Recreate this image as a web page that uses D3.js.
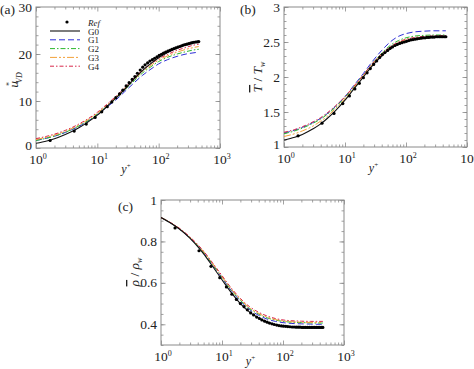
<!DOCTYPE html>
<html><head><meta charset="utf-8">
<script src="https://cdn.jsdelivr.net/npm/d3@7"></script>
<style>
body{margin:0;background:#fff}
svg{display:block}
svg text{font-family:'Liberation Serif', serif;fill:#222}
</style>
</head><body><svg id="c" width="474" height="369" font-family="Liberation Serif"></svg>
<script>
// ---------------- DATA ----------------
const yPlusGrid = [1, 1.5, 2, 3, 4, 5, 7, 10, 14, 20, 28, 40, 55, 75, 100, 140, 200, 280, 350, 450];
const seriesNames = ["G0", "G1", "G2", "G3", "G4"];

// panel (a) u_VD^+
const uG0 = [1.0, 1.5, 1.95, 2.85, 3.6, 4.3, 5.5, 7.0, 8.7, 10.6, 12.5, 14.7, 16.5, 18.0, 19.2, 20.3, 21.3, 22.0, 22.4, 22.7];
const uG1 = [1.6, 2.1, 2.5, 3.3, 4.0, 4.6, 5.7, 7.1, 8.6, 10.2, 12.0, 13.9, 15.5, 16.8, 17.9, 18.8, 19.5, 20.0, 20.2, 20.4];
const uG2 = [1.6, 2.1, 2.55, 3.35, 4.05, 4.7, 5.8, 7.2, 8.8, 10.5, 12.4, 14.3, 16.0, 17.3, 18.4, 19.3, 20.0, 20.5, 20.8, 21.0];
const uG3 = [1.8, 2.3, 2.75, 3.55, 4.25, 4.9, 6.0, 7.4, 9.0, 10.8, 12.7, 14.6, 16.3, 17.6, 18.7, 19.6, 20.4, 21.0, 21.3, 21.6];
const uG4 = [2.0, 2.5, 2.95, 3.75, 4.45, 5.1, 6.2, 7.6, 9.2, 11.0, 12.9, 14.9, 16.6, 17.9, 19.0, 19.9, 20.8, 21.4, 21.8, 22.1];

// panel (b) T/Tw
const tG0 = [1.10, 1.14, 1.18, 1.26, 1.33, 1.40, 1.52, 1.67, 1.83, 2.0, 2.16, 2.30, 2.40, 2.47, 2.51, 2.54, 2.56, 2.57, 2.575, 2.575];
const tG1 = [1.20, 1.24, 1.28, 1.35, 1.41, 1.47, 1.58, 1.72, 1.88, 2.05, 2.22, 2.38, 2.50, 2.58, 2.62, 2.645, 2.655, 2.66, 2.66, 2.66];
const tG2 = [1.19, 1.23, 1.27, 1.34, 1.40, 1.46, 1.57, 1.71, 1.86, 2.03, 2.19, 2.34, 2.45, 2.52, 2.56, 2.585, 2.595, 2.60, 2.60, 2.60];
const tG3 = [1.15, 1.19, 1.23, 1.30, 1.37, 1.43, 1.55, 1.69, 1.85, 2.02, 2.18, 2.32, 2.42, 2.49, 2.53, 2.555, 2.57, 2.58, 2.58, 2.58];
const tG4 = [1.21, 1.25, 1.29, 1.36, 1.42, 1.48, 1.59, 1.72, 1.87, 2.03, 2.19, 2.33, 2.43, 2.50, 2.54, 2.565, 2.58, 2.585, 2.59, 2.59];

// panel (c) rho/rho_w
const rG0 = [0.915, 0.885, 0.86, 0.815, 0.775, 0.74, 0.68, 0.615, 0.555, 0.50, 0.46, 0.43, 0.41, 0.398, 0.392, 0.389, 0.387, 0.386, 0.386, 0.386];
const rG1 = [0.915, 0.885, 0.86, 0.815, 0.778, 0.745, 0.688, 0.625, 0.565, 0.512, 0.472, 0.443, 0.425, 0.414, 0.408, 0.404, 0.402, 0.401, 0.40, 0.40];
const rG2 = [0.915, 0.886, 0.861, 0.817, 0.78, 0.747, 0.69, 0.628, 0.568, 0.516, 0.477, 0.449, 0.431, 0.42, 0.414, 0.41, 0.408, 0.407, 0.406, 0.406];
const rG3 = [0.915, 0.887, 0.862, 0.818, 0.782, 0.75, 0.693, 0.63, 0.572, 0.52, 0.48, 0.452, 0.434, 0.423, 0.416, 0.412, 0.41, 0.409, 0.409, 0.409];
const rG4 = [0.915, 0.888, 0.864, 0.821, 0.785, 0.753, 0.697, 0.635, 0.577, 0.525, 0.486, 0.458, 0.44, 0.428, 0.421, 0.417, 0.415, 0.414, 0.414, 0.414];

// reference (DNS) points
const refYPlus = [1.7, 4.2, 6.6, 9.2, 11.8, 14.5, 17.2, 20, 23, 26, 29.5, 33, 37, 41, 45, 50, 55, 60, 66, 72, 79, 86, 94, 102, 111, 120, 130, 141, 152, 164, 177, 190, 205, 220, 236, 253, 271, 290, 310, 331, 353, 376, 400, 425, 450];
const refU = [1.6, 3.6, 5.1, 6.5, 7.7, 8.8, 9.8, 10.7, 11.5, 12.3, 13.2, 13.9, 14.6, 15.2, 15.9, 16.6, 17.2, 17.7, 18.1, 18.5, 18.8, 19.1, 19.4, 19.7, 19.95, 20.2, 20.4, 20.6, 20.8, 21.0, 21.15, 21.3, 21.45, 21.6, 21.75, 21.9, 22.0, 22.1, 22.2, 22.3, 22.4, 22.5, 22.55, 22.6, 22.65];
const refT = [1.16, 1.34, 1.48, 1.62, 1.73, 1.83, 1.91, 1.99, 2.06, 2.12, 2.18, 2.23, 2.28, 2.32, 2.35, 2.38, 2.41, 2.43, 2.45, 2.465, 2.48, 2.49, 2.50, 2.51, 2.52, 2.53, 2.535, 2.54, 2.545, 2.55, 2.555, 2.56, 2.56, 2.565, 2.565, 2.57, 2.57, 2.57, 2.575, 2.575, 2.575, 2.575, 2.575, 2.575, 2.575];
const refRho = [0.865, 0.755, 0.68, 0.625, 0.58, 0.545, 0.52, 0.50, 0.485, 0.47, 0.455, 0.445, 0.435, 0.428, 0.421, 0.415, 0.41, 0.406, 0.402, 0.399, 0.396, 0.394, 0.392, 0.391, 0.39, 0.389, 0.388, 0.387, 0.387, 0.386, 0.386, 0.386, 0.385, 0.385, 0.385, 0.385, 0.385, 0.385, 0.385, 0.385, 0.385, 0.385, 0.385, 0.385, 0.385];

const xDecades = [1, 10, 100, 1000];
const xDecadeExp = ["0", "1", "2", "3"];
const uTicks = [0, 10, 20, 30];
const tTicks = [1, 1.5, 2, 2.5, 3];
const rTicks = [0.4, 0.6, 0.8, 1];

// ---------------- STYLES ----------------
const colors = ["#111111", "#2e2ed6", "#2db82d", "#f2a23a", "#d8284a"];
const dashes = [null, "6,3", "5,2,1.5,2", "7,2,2,2,2,2", "4,2,1.5,2"];
const widths = [1.1, 1.0, 1.0, 1.0, 1.0];

const svg = d3.select("#c");

function panel(cfg) {
  const g = svg.append("g");
  const x = d3.scaleLog().domain([1, 1000]).range([cfg.l, cfg.r]);
  const y = d3.scaleLinear().domain(cfg.yDom).range([cfg.b, cfg.t]);
  const frame = "#8a8a8a";

  const minorX = [];
  for (let d = 1; d < 1000; d *= 10) for (let k = 2; k <= 9; k++) minorX.push(d * k);
  const axB = g.append("g").attr("transform", `translate(0,${cfg.b})`)
    .call(d3.axisBottom(x).tickValues(minorX).tickSize(-2.5).tickFormat(""));
  const axT = g.append("g").attr("transform", `translate(0,${cfg.t})`)
    .call(d3.axisTop(x).tickValues(minorX).tickSize(-2.5).tickFormat(""));
  const axB2 = g.append("g").attr("transform", `translate(0,${cfg.b})`)
    .call(d3.axisBottom(x).tickValues(xDecades).tickSize(-4.5).tickFormat(""));
  const axT2 = g.append("g").attr("transform", `translate(0,${cfg.t})`)
    .call(d3.axisTop(x).tickValues(xDecades).tickSize(-4.5).tickFormat(""));
  const minorY = d3.range(cfg.yDom[0], cfg.yDom[1] + 1e-9, cfg.yMinor);
  const axL = g.append("g").attr("transform", `translate(${cfg.l},0)`)
    .call(d3.axisLeft(y).tickValues(minorY).tickSize(-2.5).tickFormat(""));
  const axR = g.append("g").attr("transform", `translate(${cfg.r},0)`)
    .call(d3.axisRight(y).tickValues(minorY).tickSize(-2.5).tickFormat(""));
  const axL2 = g.append("g").attr("transform", `translate(${cfg.l},0)`)
    .call(d3.axisLeft(y).tickValues(cfg.yTicks).tickSize(-4.5).tickFormat(""));
  const axR2 = g.append("g").attr("transform", `translate(${cfg.r},0)`)
    .call(d3.axisRight(y).tickValues(cfg.yTicks).tickSize(-4.5).tickFormat(""));
  [axB, axT, axB2, axT2, axL, axR, axL2, axR2].forEach(a => {
    a.select(".domain").remove();
    a.selectAll("line").attr("stroke", frame).attr("stroke-width", 0.8);
  });
  g.append("rect").attr("x", cfg.l).attr("y", cfg.t)
    .attr("width", cfg.r - cfg.l).attr("height", cfg.b - cfg.t)
    .attr("fill", "none").attr("stroke", frame).attr("stroke-width", 1);

  xDecades.forEach((v, i) => {
    const t = g.append("text").attr("x", x(v) + 2).attr("y", cfg.b + 16)
      .attr("text-anchor", "middle").attr("font-size", 13.5);
    t.append("tspan").text("10");
    t.append("tspan").attr("font-size", 8).attr("dy", -5).text(xDecadeExp[i]);
  });
  cfg.yTicks.forEach(v => {
    g.append("text").attr("x", cfg.l - 4).attr("y", y(v) + (v === cfg.yDom[0] ? 1.5 : 4.5))
      .attr("text-anchor", "end").attr("font-size", 13.5).text(cfg.fmt(v));
  });
  const xl = g.append("text").attr("x", (cfg.l + cfg.r) / 2 - 2).attr("y", cfg.b + cfg.xlOff)
    .attr("text-anchor", "middle").attr("font-size", 12);
  xl.append("tspan").attr("font-style", "italic").text("y");
  xl.append("tspan").attr("font-size", 7).attr("dy", -5).text("+");

  const clipId = "clip" + cfg.id;
  g.append("clipPath").attr("id", clipId).append("rect")
    .attr("x", cfg.l).attr("y", cfg.t).attr("width", cfg.r - cfg.l).attr("height", cfg.b - cfg.t);
  const line = d3.line().x((d, i) => x(yPlusGrid[i])).y(d => y(d)).curve(d3.curveMonotoneX);
  const plot = g.append("g").attr("clip-path", `url(#${clipId})`);
  [1, 2, 3, 4, 0].forEach(k => {
    plot.append("path").attr("d", line(cfg.series[k])).attr("fill", "none")
      .attr("stroke", colors[k]).attr("stroke-width", widths[k])
      .attr("stroke-dasharray", dashes[k]);
  });
  plot.selectAll("circle.ref").data(cfg.ref).enter().append("circle")
    .attr("cx", (d, i) => x(refYPlus[i])).attr("cy", d => y(d)).attr("r", 1.6).attr("fill", "#000");

  g.append("text").attr("x", cfg.letterX).attr("y", cfg.letterY).attr("font-size", 13.5).text(cfg.letter);
  return {g, x, y};
}

panel({id: "a", l: 36, r: 220, t: 7, b: 148, yDom: [0, 30], yTicks: uTicks, yMinor: 2, xlOff: 25,
  fmt: d => d, series: [uG0, uG1, uG2, uG3, uG4], ref: refU, letter: "(a)", letterX: 0, letterY: 14});
panel({id: "b", l: 284, r: 467, t: 7, b: 147, yDom: [1, 3], yTicks: tTicks, yMinor: 0.1, xlOff: 25,
  fmt: d => d, series: [tG0, tG1, tG2, tG3, tG4], ref: refT, letter: "(b)", letterX: 240, letterY: 14});
panel({id: "c", l: 161, r: 344, t: 200, b: 345, yDom: [0.3, 1], yTicks: rTicks, yMinor: 0.05, xlOff: 20,
  fmt: d => d, series: [rG0, rG1, rG2, rG3, rG4], ref: refRho, letter: "(c)", letterX: 118, letterY: 211});

{
  const t = svg.append("text").attr("transform", "translate(18,80) rotate(-90)")
    .attr("text-anchor", "middle").attr("font-size", 13.5);
  t.append("tspan").attr("font-style", "italic").text("u");
  t.append("tspan").attr("font-size", 8).attr("dy", -6).attr("dx", -5).text("*");
  t.append("tspan").attr("font-size", 8).attr("dy", 10).attr("dx", -1).attr("font-style", "italic").text("VD");
}
{
  const t = svg.append("text").attr("transform", "translate(262,77) rotate(-90)")
    .attr("text-anchor", "middle").attr("font-size", 13.5);
  t.append("tspan").attr("font-style", "italic").attr("text-decoration", "overline").text("T");
  t.append("tspan").text(" / ");
  t.append("tspan").attr("font-style", "italic").text("T");
  t.append("tspan").attr("font-size", 8).attr("dy", 3).attr("font-style", "italic").text("w");
}
{
  const t = svg.append("text").attr("transform", "translate(139,272) rotate(-90)")
    .attr("text-anchor", "middle").attr("font-size", 13.5);
  t.append("tspan").attr("font-style", "italic").attr("text-decoration", "overline").text("ρ");
  t.append("tspan").text(" / ");
  t.append("tspan").attr("font-style", "italic").text("ρ");
  t.append("tspan").attr("font-size", 8).attr("dy", 3).attr("font-style", "italic").text("w");
}

{
  const lg = svg.append("g");
  lg.append("circle").attr("cx", 67).attr("cy", 22).attr("r", 1.6).attr("fill", "#000");
  lg.append("text").attr("x", 88).attr("y", 25.5).attr("font-size", 9).attr("font-style", "italic").text("Ref");
  seriesNames.forEach((n, k) => {
    const yy = 31 + k * 8.8;
    lg.append("line").attr("x1", 50).attr("x2", 80).attr("y1", yy).attr("y2", yy)
      .attr("stroke", colors[k]).attr("stroke-width", widths[k]).attr("stroke-dasharray", dashes[k]);
    lg.append("text").attr("x", 88).attr("y", yy + 3.5).attr("font-size", 9).text(n);
  });
}
</script>
</body></html>
